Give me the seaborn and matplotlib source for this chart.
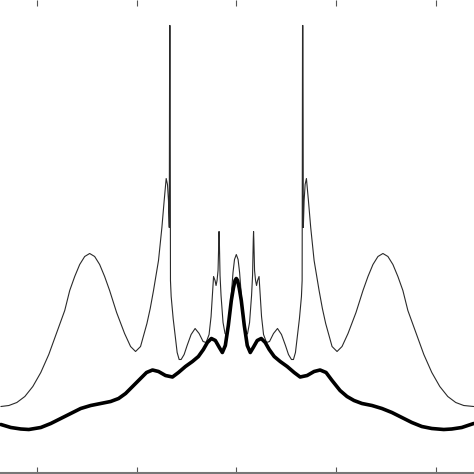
import matplotlib
matplotlib.use("Agg")
import matplotlib.pyplot as plt
import seaborn as sns

# thin curve (spectrum with resonance spikes)
thin_x = [-236, -228, -220, -212, -204, -196, -188, -180, -172, -167, -162, -157, -152, -147,
          -142, -137, -132, -127, -120, -112, -106, -101, -96, -89.6, -86.3, -83, -78, -74.6,
          -72.3, -70.3, -69, -68, -67.2, -66.8, -66.4, -66.0, -65.3, -63.3, -61.3, -59.3,
          -57.3, -55.3, -52.3, -49.3, -45.3, -41.3, -37.3, -33.3, -30.3, -27.3, -25.3, -23.8,
          -22.8, -21.3, -20.3, -19.3, -18.3, -17.6, -17.3, -17.0, -16.3, -15.3, -13.3, -11.3,
          -9.3, -7.3, -5.3, -3.3, -1.8, 0,
          1.8, 3.3, 5.3, 7.3, 9.3, 11.3, 13.3, 15.3, 16.3, 17.0, 17.3, 17.6, 18.3, 19.3, 20.3,
          21.3, 22.8, 23.8, 25.3, 27.3, 30.3, 33.3, 37.3, 41.3, 45.3, 49.3, 52.3, 55.3, 57.3,
          59.3, 61.3, 63.3, 65.3, 66.0, 66.4, 66.8, 67.2, 68, 69, 70.3, 72.3, 74.6, 78, 83,
          86.3, 89.6, 96, 101, 106, 112, 120, 127, 132, 137, 142, 147, 152, 157, 162, 167,
          172, 180, 188, 196, 204, 212, 220, 228, 238]
thin_y = [66, 67, 70, 76, 86, 100, 118, 140, 162, 182, 196, 208, 216, 219,
          216, 208, 196, 182, 160, 139, 126, 121, 126, 149, 164, 182, 212, 245,
          272, 294, 288, 272, 245, 447, 447, 192, 176, 154, 137, 120,
          113, 113, 118, 127, 138, 144, 139, 131, 130, 138, 156, 180,
          196, 192, 187, 192, 202, 232, 241, 232, 197, 177, 150, 139,
          137, 150, 174, 200, 213, 218,
          213, 200, 174, 150, 137, 139, 150, 177, 197, 232, 241, 232, 202, 192, 187,
          192, 196, 180, 156, 138, 130, 131, 139, 144, 138, 127, 118, 113, 113,
          120, 137, 154, 176, 192, 447, 447, 245, 272, 288, 294, 272, 245, 212, 182,
          164, 149, 126, 121, 126, 139, 160, 182, 196, 208, 216, 219, 216, 208, 196, 182,
          162, 140, 118, 100, 86, 76, 70, 67, 66]

# thick curve (smoothed response)
thick_x = [-236, -226, -216, -208, -196, -186, -176, -166, -156, -146, -136, -126, -118,
           -111, -104, -96, -90, -84, -78, -71, -64, -58, -51, -44, -38, -33, -29, -25, -21,
           -17, -14, -11, -8, -5, -3, -1.3, 0,
           1.3, 3, 5, 8, 11, 14, 17, 21, 25, 29, 33, 38, 44, 51, 58, 64, 71, 78, 84, 90, 96,
           104, 111, 118, 126, 136, 146, 156, 166, 176, 186, 196, 208, 216, 226, 238]
thick_y = [48, 45, 43.5, 43, 45, 49, 54, 59, 64, 67, 69, 71, 74,
           79, 86, 94, 100, 102.5, 101, 97, 95.5, 100, 106, 111, 116, 123, 130, 134, 132,
           125, 120, 127, 147, 172, 184, 192, 194,
           192, 184, 172, 147, 127, 120, 125, 132, 134, 130, 123, 116, 111, 106, 100, 95.5, 97,
           101, 102.5, 100, 92, 82, 76, 72, 69, 67, 64, 60, 55, 50, 46, 44, 43, 43.5, 45, 49]

tick_pos = [-200, -100, 0, 100, 200]

sns.set_style("white")

fig = plt.figure(figsize=(4.74, 4.74), dpi=100)
ax = fig.add_axes([0, 1.5 / 474, 1, 472.5 / 474])

sns.lineplot(x=thin_x, y=thin_y, ax=ax, color="#2a2a2a", linewidth=0.8,
             sort=False, estimator=None)
sns.lineplot(x=thick_x, y=thick_y, ax=ax, color="black", linewidth=2.6,
             sort=False, estimator=None)

ax.set_xlim(-236.9, 238.3)
ax.set_ylim(0, 472.5)
ax.set_xticks(tick_pos)
ax.set_xticklabels([])
ax.set_yticks([])
ax.tick_params(axis="x", direction="in", length=4.3, width=0.8, color="#555555",
               top=True, bottom=True, labelbottom=False, labeltop=False)
for side in ["left", "right", "top"]:
    ax.spines[side].set_visible(False)
ax.spines["bottom"].set_color("#777777")
ax.spines["bottom"].set_linewidth(1.5)
ax.set_facecolor("white")

fig.savefig("out.png", dpi=100)
plt.close(fig)
